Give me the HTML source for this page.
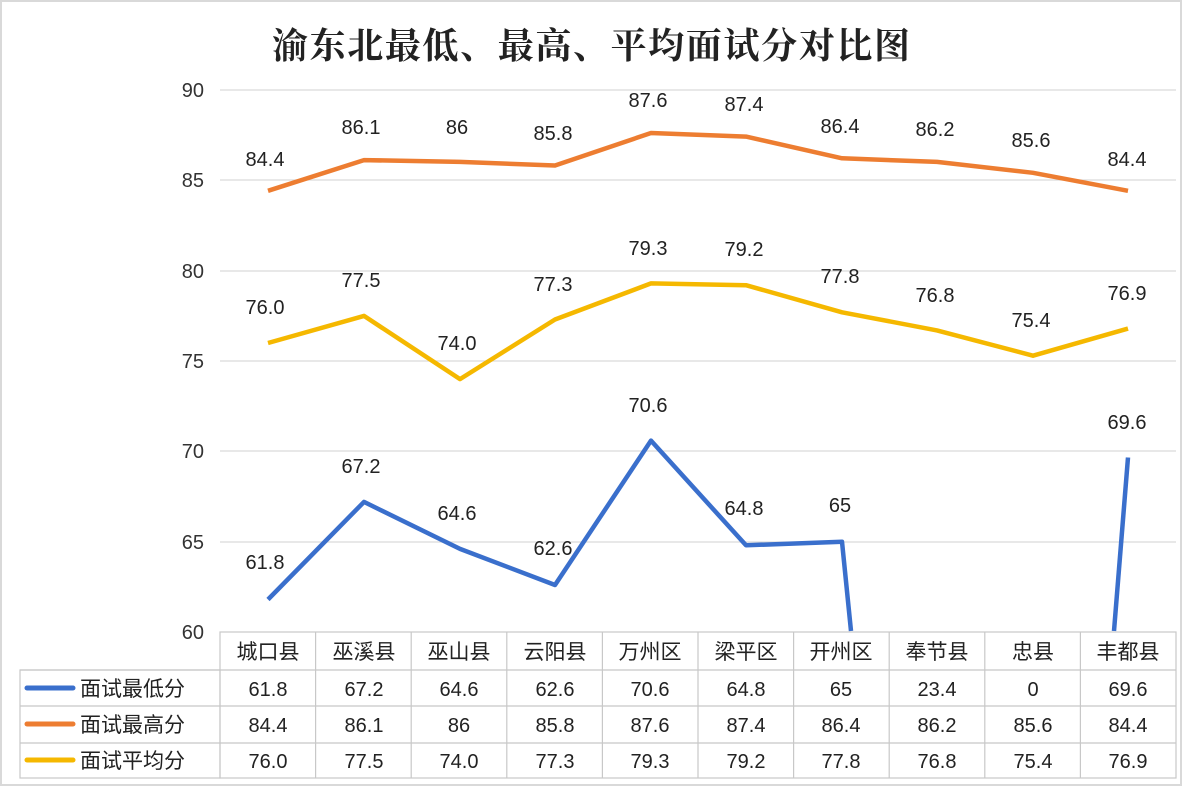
<!DOCTYPE html>
<html><head><meta charset="utf-8"><style>
html,body{margin:0;padding:0;background:#fff;}
body{width:1182px;height:786px;overflow:hidden;}
svg{display:block;}
svg text{font-family:"Liberation Sans","Noto Sans CJK SC",sans-serif;}
</style></head><body>
<svg width="1182" height="786" viewBox="0 0 1182 786" xmlns="http://www.w3.org/2000/svg">
<rect x="1" y="1" width="1180" height="784" fill="#fff" stroke="#d9d9d9" stroke-width="2"/>
<text x="272" y="58" font-size="36" font-weight="bold" textLength="638" lengthAdjust="spacing" style="font-family:'Noto Serif CJK SC',serif" fill="#222">渝东北最低、最高、平均面试分对比图</text>
<g stroke="#d9d9d9" stroke-width="1.2">
<line x1="220" y1="90" x2="1176" y2="90"/>
<line x1="220" y1="180" x2="1176" y2="180"/>
<line x1="220" y1="271" x2="1176" y2="271"/>
<line x1="220" y1="361" x2="1176" y2="361"/>
<line x1="220" y1="451" x2="1176" y2="451"/>
<line x1="220" y1="542" x2="1176" y2="542"/>
</g>
<g font-size="20" fill="#333" text-anchor="end">
<text x="204" y="97">90</text><text x="204" y="187">85</text><text x="204" y="278">80</text>
<text x="204" y="368">75</text><text x="204" y="458">70</text><text x="204" y="549">65</text><text x="204" y="639">60</text>
</g>
<g fill="none" stroke-width="4.5" stroke-linejoin="round">
<polyline stroke="#ed7d31" points="268,190.8 364,160.1 460,161.9 555,165.5 651,133 746,136.6 842,158.3 937,161.9 1033,172.8 1128,190.8"/>
<polyline stroke="#f5b800" points="268,343 364,315.9 460,379.1 555,319.5 651,283.4 746,285.2 842,312.3 937,330.4 1033,355.7 1128,328.6"/>
<polyline stroke="#3a6fcc" points="268,599.5 364,501.9 460,548.9 555,585 651,440.6 746,545.3 842,541.7 851,631"/>
<polyline stroke="#3a6fcc" points="1114,631 1128,457.5"/>
</g>
<g font-size="20" fill="#222" text-anchor="middle">
<text x="265" y="166">84.4</text><text x="361" y="134">86.1</text><text x="457" y="134">86</text><text x="553" y="140">85.8</text><text x="648" y="107">87.6</text><text x="744" y="111">87.4</text><text x="840" y="133">86.4</text><text x="935" y="136">86.2</text><text x="1031" y="147">85.6</text><text x="1127" y="166">84.4</text>
<text x="265" y="314">76.0</text><text x="361" y="287">77.5</text><text x="457" y="350">74.0</text><text x="553" y="291">77.3</text><text x="648" y="255">79.3</text><text x="744" y="256">79.2</text><text x="840" y="283">77.8</text><text x="935" y="302">76.8</text><text x="1031" y="327">75.4</text><text x="1127" y="300">76.9</text>
<text x="265" y="569">61.8</text><text x="361" y="473">67.2</text><text x="457" y="520">64.6</text><text x="553" y="555">62.6</text><text x="648" y="412">70.6</text><text x="744" y="515">64.8</text><text x="840" y="512">65</text><text x="1127" y="429">69.6</text>
</g>
<g stroke="#c8c8c8" stroke-width="1.2" fill="none">
<rect x="220" y="632" width="956" height="146"/>
<rect x="20" y="670" width="200" height="108"/>
<line x1="20" y1="706" x2="1176" y2="706"/><line x1="20" y1="743" x2="1176" y2="743"/>
<line x1="20" y1="670" x2="1176" y2="670"/>
<line x1="315.6" y1="632" x2="315.6" y2="778"/><line x1="411.2" y1="632" x2="411.2" y2="778"/><line x1="506.8" y1="632" x2="506.8" y2="778"/><line x1="602.4" y1="632" x2="602.4" y2="778"/><line x1="698" y1="632" x2="698" y2="778"/><line x1="793.6" y1="632" x2="793.6" y2="778"/><line x1="889.2" y1="632" x2="889.2" y2="778"/><line x1="984.8" y1="632" x2="984.8" y2="778"/><line x1="1080.4" y1="632" x2="1080.4" y2="778"/>
</g>
<g font-size="21" fill="#222" text-anchor="middle">
<text x="268" y="659">城口县</text><text x="364" y="659">巫溪县</text><text x="459" y="659">巫山县</text><text x="555" y="659">云阳县</text><text x="650" y="659">万州区</text><text x="746" y="659">梁平区</text><text x="841" y="659">开州区</text><text x="937" y="659">奉节县</text><text x="1033" y="659">忠县</text><text x="1128" y="659">丰都县</text>
</g>
<g font-size="20" fill="#222" text-anchor="middle">
<text x="268" y="696">61.8</text><text x="364" y="696">67.2</text><text x="459" y="696">64.6</text><text x="555" y="696">62.6</text><text x="650" y="696">70.6</text><text x="746" y="696">64.8</text><text x="841" y="696">65</text><text x="937" y="696">23.4</text><text x="1033" y="696">0</text><text x="1128" y="696">69.6</text>
<text x="268" y="732">84.4</text><text x="364" y="732">86.1</text><text x="459" y="732">86</text><text x="555" y="732">85.8</text><text x="650" y="732">87.6</text><text x="746" y="732">87.4</text><text x="841" y="732">86.4</text><text x="937" y="732">86.2</text><text x="1033" y="732">85.6</text><text x="1128" y="732">84.4</text>
<text x="268" y="768">76.0</text><text x="364" y="768">77.5</text><text x="459" y="768">74.0</text><text x="555" y="768">77.3</text><text x="650" y="768">79.3</text><text x="746" y="768">79.2</text><text x="841" y="768">77.8</text><text x="937" y="768">76.8</text><text x="1033" y="768">75.4</text><text x="1128" y="768">76.9</text>
</g>
<g stroke-width="5" stroke-linecap="round">
<line x1="27" y1="688" x2="73" y2="688" stroke="#3a6fcc"/>
<line x1="27" y1="724" x2="73" y2="724" stroke="#ed7d31"/>
<line x1="27" y1="760" x2="73" y2="760" stroke="#f5b800"/>
</g>
<g font-size="21" fill="#222">
<text x="80" y="696">面试最低分</text><text x="80" y="732">面试最高分</text><text x="80" y="768">面试平均分</text>
</g>
</svg>
</body></html>
